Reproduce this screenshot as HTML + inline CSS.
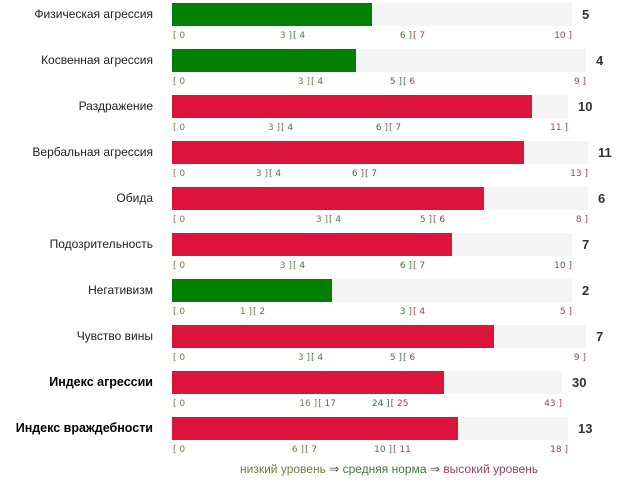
<!DOCTYPE html>
<html><head><meta charset="utf-8">
<style>
body{margin:0;width:621px;height:484px;background:#fff;font-family:"Liberation Sans","DejaVu Sans",sans-serif;position:relative;overflow:hidden}
.lbl{position:absolute;right:468px;font-size:12px;color:#222;white-space:nowrap;text-align:right}
.lbl.b{font-weight:bold;font-size:12.5px;color:#000}
.track{position:absolute;left:172px;height:23px;background:#f4f4f4}
.fill{position:absolute;left:0;top:0;height:23px}
.val{position:absolute;font-size:13px;font-weight:bold;color:#333}
.tk{position:absolute;font-size:9px;white-space:nowrap;font-family:"DejaVu Sans","Liberation Sans",sans-serif}
.lo{color:#7a7a45}.mid{color:#3f7a3f}.hi{color:#a04060}
.legend{position:absolute;left:240px;top:462px;font-size:12px;white-space:nowrap}
</style></head><body>
<div id="chart"></div>
<div class="legend"><span class="lo">низкий уровень</span> <span style="color:#555">⇒</span> <span class="mid">средняя норма</span> <span style="color:#555">⇒</span> <span class="hi">высокий уровень</span></div>
<script>
const categories=["Физическая агрессия","Косвенная агрессия","Раздражение","Вербальная агрессия","Обида","Подозрительность","Негативизм","Чувство вины","Индекс агрессии","Индекс враждебности"];
const values=[5,4,10,11,6,7,2,7,30,13];
const lowMax=[3,3,3,3,3,3,1,3,16,6];
const midMax=[6,5,6,6,5,6,3,5,24,10];
const scaleMax=[10,9,11,13,8,10,5,9,43,18];
const bold=[false,false,false,false,false,false,false,false,true,true];
const trackW=[400,414,396,416,416,400,400,414,390,396];
const chart=document.getElementById('chart');
categories.forEach((c,i)=>{
  const top=3+46*i;
  const w=trackW[i];
  const x=v=>v/scaleMax[i]*w;
  const lab=document.createElement('div');
  
  
  lab.className='lbl'+(bold[i]?' b':'');
  lab.style.top=(top+4)+'px';lab.textContent=c;chart.appendChild(lab);
  const tr=document.createElement('div');
  
  
  tr.className='track';tr.style.top=top+'px';tr.style.width=w+'px';
  const f=document.createElement('div');
  
  
  f.className='fill';f.style.width=x(values[i])+'px';
  f.style.background=values[i]>midMax[i]?'#dc143c':(values[i]>lowMax[i]?'#008000':'#8a8a40');
  tr.appendChild(f);chart.appendChild(tr);
  const v=document.createElement('div');
  
  
  v.className='val';v.style.left=(172+w+10)+'px';v.style.top=(top+4)+'px';v.textContent=values[i];chart.appendChild(v);
  const ty=top+28;
  const mk=(html,left,right)=>{
    const t=document.createElement('div');
    
    
    t.className='tk';t.style.top=ty+'px';
    if(left!=null)t.style.left=left+'px';else t.style.right=(621-right)+'px';
    t.innerHTML=html;chart.appendChild(t);
  };
  mk('<span class="lo">[ 0</span>',173,null);
  mk('<span class="lo">'+lowMax[i]+' ]</span>',null,172+x(lowMax[i]));
  mk('<span class="mid">[ '+(lowMax[i]+1)+'</span>',172+x(lowMax[i])+1,null);
  mk('<span class="mid">'+midMax[i]+' ]</span>',null,172+x(midMax[i]));
  mk('<span class="hi">[ '+(midMax[i]+1)+'</span>',172+x(midMax[i])+1,null);
  mk('<span class="hi">'+scaleMax[i]+' ]</span>',null,172+w);
});
</script>
</body></html>
